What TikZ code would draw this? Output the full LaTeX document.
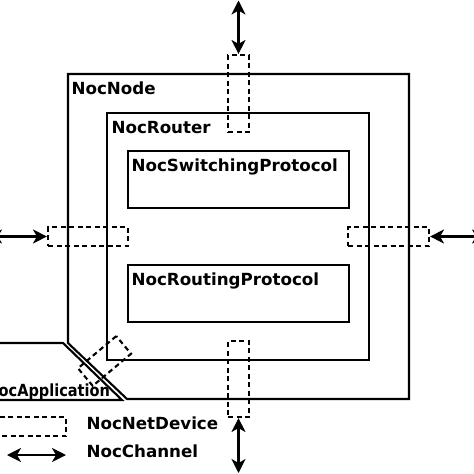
\documentclass[tikz,border=0pt]{standalone}
\usepackage{fontspec}
\setmainfont{DejaVu Sans}
\usepackage{tikz}
\usetikzlibrary{arrows.meta}

\begin{document}
\begin{tikzpicture}[x=1pt,y=-1pt,line width=2.1pt,
  box/.style={draw,rectangle,inner sep=0pt},
  netdev/.style={draw,rectangle,inner sep=0pt,dash pattern=on 5pt off 3.5pt},
  chan/.style={{Stealth[length=14pt,width=14pt,inset=4pt]}-{Stealth[length=14pt,width=14pt,inset=4pt]}},
  lbl/.style={inner sep=0pt,font=\fontsize{16.7}{20}\selectfont\bfseries}]
\useasboundingbox (0,0) rectangle (474,474);
\clip (0,0) rectangle (474,474);
% node and application outlines
\draw (68,74) -- (409,74) -- (409,399) -- (127,399) -- (68,343) -- cycle;
\draw (-10,343) -- (63,343) -- (122,400) -- (-10,400);
\node[lbl,anchor=base west] (nodelbl) at (70.5,94) {NocNode};
\node[lbl,anchor=base east] (applbl) at (111,396) {\scalebox{0.87}[1]{NocApplication}};
% router and its protocols
\node[box,minimum width=262pt,minimum height=247pt] (router) at (238,236.5) {};
\node[lbl,anchor=base west] (routerlbl) at (110.5,133) {NocRouter};
\node[box,minimum width=221pt,minimum height=57pt] (switching) at (238.5,179.5) {};
\node[lbl,anchor=base west] (switchinglbl) at (130.5,171) {NocSwitchingProtocol};
\node[box,minimum width=221pt,minimum height=57pt] (routing) at (238.5,293.5) {};
\node[lbl,anchor=base west] (routinglbl) at (130.5,285) {NocRoutingProtocol};
% net devices
\node[netdev,minimum width=21pt,minimum height=77pt] (devtop) at (238.5,93.5) {};
\node[netdev,minimum width=21pt,minimum height=76pt] (devbot) at (238.5,379) {};
\node[netdev,minimum width=80pt,minimum height=19pt] (devleft) at (88,236.5) {};
\node[netdev,minimum width=81pt,minimum height=19pt] (devright) at (388.5,236.5) {};
\node[netdev,minimum width=50pt,minimum height=23pt,rotate=40] (devapp) at (104.5,361) {};
% channels
\coordinate (outtop) at (238.5,0.5);
\coordinate (outbot) at (238.5,473);
\coordinate (outleft) at (-12,236.5);
\coordinate (outright) at (486,236.5);
\draw[chan] (outtop) -- (devtop.north);
\draw[chan] (devbot.south) -- (outbot);
\draw[chan] (outleft) -- (devleft.west);
\draw[chan] (devright.east) -- (outright);
% legend
\node[netdev,minimum width=81pt,minimum height=19pt] (legdev) at (25.5,426.5) {};
\node[lbl,anchor=base west] (legdevlbl) at (85.5,429) {NocNetDevice};
\coordinate (legchana) at (7,455);
\coordinate (legchanb) at (66,455);
\draw[chan] (legchana) -- (legchanb);
\node[lbl,anchor=base west] (legchanlbl) at (85.5,457) {NocChannel};
\end{tikzpicture}
\end{document}
